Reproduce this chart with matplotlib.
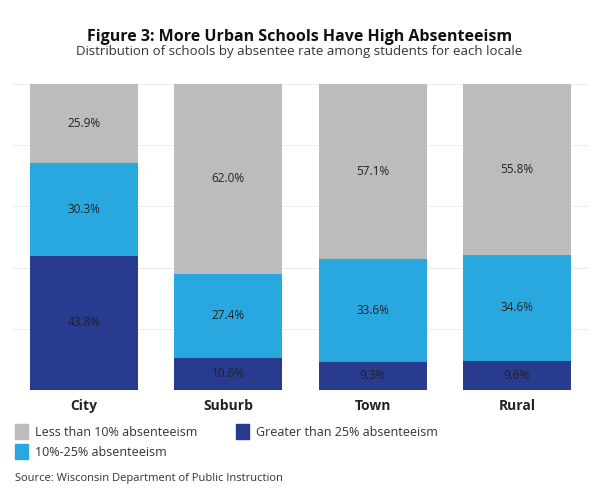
import matplotlib
matplotlib.use("Agg")
import matplotlib.pyplot as plt
from matplotlib.patches import Rectangle

plt.rcParams['font.family'] = ['Open Sans', 'DejaVu Sans']

categories = ["City", "Suburb", "Town", "Rural"]
series_names = ["Greater than 25% absenteeism", "10%-25% absenteeism", "Less than 10% absenteeism"]
greater25 = [43.8, 10.6, 9.3, 9.6]
mid10_25 = [30.3, 27.4, 33.6, 34.6]
less10 = [25.9, 62.0, 57.1, 55.8]
colors = {"Greater than 25% absenteeism": "#283B8E",
          "10%-25% absenteeism": "#29A8E0",
          "Less than 10% absenteeism": "#BBBCBE"}

W, H = 599, 499
fig = plt.figure(figsize=(W / 100, H / 100), dpi=100)
ax = fig.add_axes([12 / W, 1 - 390 / H, (589 - 12) / W, (390 - 84) / H])

x = list(range(len(categories)))
bottom = [0.0] * len(categories)
for name, vals in zip(series_names, [greater25, mid10_25, less10]):
    ax.bar(x, vals, bottom=bottom, width=0.75, color=colors[name], zorder=2)
    for xi, v, b in zip(x, vals, bottom):
        ax.text(xi, b + v / 2, f"{v:.1f}%", ha="center", va="center",
                fontsize=8.5, color="#222222", zorder=3)
    bottom = [b + v for b, v in zip(bottom, vals)]

ax.set_xlim(-0.5, 3.5)
ax.set_ylim(0, 100)
ax.set_yticks([0, 20, 40, 60, 80, 100])
ax.yaxis.grid(True, color="#EEEEEE", linewidth=0.8, zorder=0)
ax.set_yticklabels([])
ax.tick_params(left=False, bottom=False)
ax.set_xticks(x)
ax.set_xticklabels(categories, fontsize=10, fontweight="bold", color="#222222")
ax.tick_params(axis="x", pad=3)
for s in ax.spines.values():
    s.set_visible(False)

fig.text(0.5, 1 - 37 / H, "Figure 3: More Urban Schools Have High Absenteeism",
         ha="center", va="center", fontsize=11.5, fontweight="bold", color="#111111")
fig.text(0.5, 1 - 51 / H, "Distribution of schools by absentee rate among students for each locale",
         ha="center", va="center", fontsize=9.5, color="#333333")

legend_items = [("Less than 10% absenteeism", 15, 432),
                ("Greater than 25% absenteeism", 236, 432),
                ("10%-25% absenteeism", 15, 452)]
for name, lx, ly in legend_items:
    fig.patches.append(Rectangle((lx / W, 1 - (ly + 7) / H), 13 / W, 15 / H,
                                 transform=fig.transFigure, color=colors[name]))
    fig.text((lx + 20) / W, 1 - ly / H, name, ha="left", va="center",
             fontsize=9, color="#333333")

fig.text(15 / W, 1 - 479 / H, "Source: Wisconsin Department of Public Instruction",
         ha="left", va="center", fontsize=8, color="#333333")

fig.savefig("out.png", dpi=100, facecolor="white")
